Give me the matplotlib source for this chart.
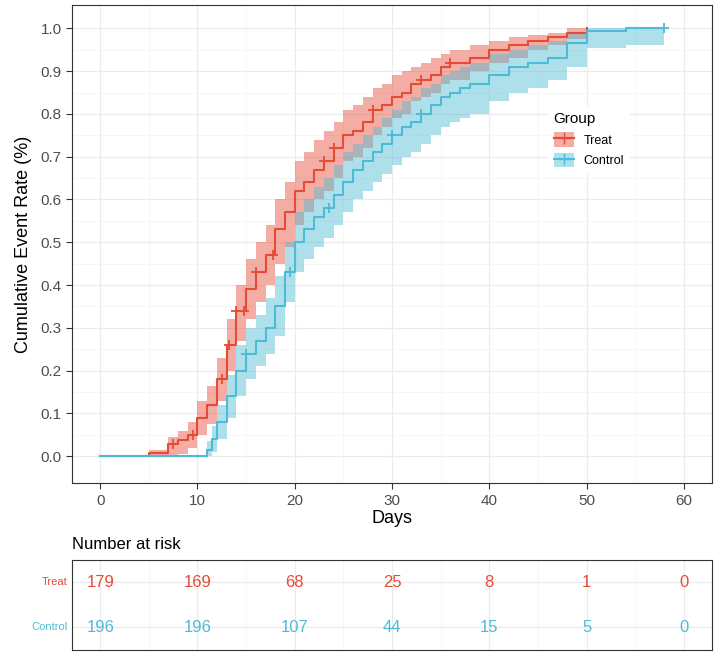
import numpy as np
import matplotlib
matplotlib.use("Agg")
import matplotlib.pyplot as plt
from matplotlib.patches import Patch
from matplotlib.lines import Line2D

plt.rcParams['font.family'] = ['Liberation Sans', 'DejaVu Sans']

# Treat group: step times, cumulative event rate, CI band
treat_t = [0, 5, 7, 8, 9, 10, 11, 12, 13, 14, 15, 16, 17, 18, 19, 20, 21, 22, 23, 24, 25,
           26, 27, 28, 29, 30, 31, 32, 33, 34, 35, 36, 38, 40, 42, 44, 46, 48, 50]
treat_y = [0, 0.008, 0.028, 0.037, 0.05, 0.09, 0.12, 0.18, 0.26, 0.34, 0.39, 0.43, 0.47,
           0.53, 0.57, 0.62, 0.64, 0.67, 0.69, 0.72, 0.75, 0.76, 0.78, 0.81, 0.82, 0.84,
           0.85, 0.87, 0.88, 0.89, 0.91, 0.92, 0.93, 0.95, 0.96, 0.97, 0.98, 0.99, 1.0]
treat_lo = [0, 0, 0, 0.005, 0.02, 0.05, 0.075, 0.13, 0.2, 0.27, 0.32, 0.36, 0.4, 0.45, 0.49,
            0.54, 0.57, 0.6, 0.62, 0.65, 0.69, 0.7, 0.72, 0.75, 0.77, 0.79, 0.8, 0.83, 0.84,
            0.85, 0.87, 0.88, 0.9, 0.92, 0.93, 0.95, 0.96, 0.975, 0.99]
treat_hi = [0, 0.015, 0.045, 0.06, 0.08, 0.13, 0.165, 0.23, 0.32, 0.4, 0.46, 0.5, 0.54, 0.6,
            0.64, 0.69, 0.71, 0.74, 0.76, 0.78, 0.81, 0.82, 0.84, 0.86, 0.87, 0.89, 0.9, 0.91,
            0.92, 0.93, 0.94, 0.95, 0.96, 0.97, 0.98, 0.985, 0.99, 1.0, 1.0]
treat_cens = [7.5, 9.5, 12.5, 13.2, 14, 14.8, 16, 17.8, 23, 24, 28, 33, 36]

# Control group
ctrl_t = [0, 11, 11.5, 12, 13, 14, 15, 16, 17, 18, 19, 20, 21, 22, 23, 24, 25, 26, 27, 28,
          29, 30, 31, 32, 33, 34, 35, 36, 37, 38, 40, 42, 44, 46, 48, 50, 54, 58]
ctrl_y = [0, 0.015, 0.04, 0.08, 0.14, 0.2, 0.24, 0.27, 0.3, 0.35, 0.43, 0.5, 0.53, 0.56,
          0.58, 0.61, 0.64, 0.67, 0.69, 0.71, 0.73, 0.75, 0.77, 0.78, 0.8, 0.82, 0.84, 0.85,
          0.86, 0.87, 0.89, 0.91, 0.92, 0.93, 0.965, 0.993, 1.0, 1.0]
ctrl_lo = [0, 0, 0.01, 0.04, 0.09, 0.14, 0.18, 0.21, 0.24, 0.28, 0.36, 0.43, 0.46, 0.49,
           0.51, 0.54, 0.57, 0.6, 0.62, 0.64, 0.66, 0.68, 0.7, 0.71, 0.73, 0.75, 0.77, 0.78,
           0.79, 0.8, 0.83, 0.85, 0.86, 0.88, 0.91, 0.955, 0.96, 0.96]
ctrl_hi = [0, 0.035, 0.07, 0.12, 0.19, 0.26, 0.3, 0.33, 0.37, 0.42, 0.5, 0.57, 0.6, 0.63,
           0.65, 0.68, 0.71, 0.73, 0.75, 0.77, 0.79, 0.81, 0.83, 0.84, 0.86, 0.87, 0.89, 0.9,
           0.91, 0.92, 0.94, 0.95, 0.96, 0.97, 0.99, 1.0, 1.0, 1.0]
ctrl_cens = [15, 19.5, 23.5, 30, 33, 58]

risk_times = [0, 10, 20, 30, 40, 50, 60]
treat_risk = [179, 169, 68, 25, 8, 1, 0]
ctrl_risk = [196, 196, 107, 44, 15, 5, 0]

red = '#E64B35'
blue = '#4DBBD5'

fig = plt.figure(figsize=(7.2, 6.6), dpi=100)
ax = fig.add_axes([0.1, 0.268, 0.889, 0.724])
tab = fig.add_axes([0.1, 0.015, 0.889, 0.137])

def at(times, vals, x):
    i = np.searchsorted(times, x, side='right') - 1
    return np.array(vals)[i]

for t, y, lo, hi, cens, col in [(treat_t, treat_y, treat_lo, treat_hi, treat_cens, red),
                               (ctrl_t, ctrl_y, ctrl_lo, ctrl_hi, ctrl_cens, blue)]:
    ax.fill_between(t, lo, hi, step='post', color=col, alpha=0.45, lw=0, zorder=2)
    ax.step(t, y, where='post', color=col, lw=1.5, zorder=3)
    ax.plot(cens, at(t, y, cens), ls='none', marker='+', ms=7, mew=1.3, color=col, zorder=4)

ax.set_xlim(-2.9, 62.9)
ax.set_ylim(-0.063, 1.054)
ax.set_xticks(range(0, 61, 10))
ax.set_xticks(range(5, 61, 10), minor=True)
ax.set_yticks(np.arange(0, 1.01, 0.1))
ax.set_yticks(np.arange(0.05, 1.0, 0.1), minor=True)
ax.yaxis.set_major_formatter(matplotlib.ticker.FormatStrFormatter('%.1f'))
ax.grid(which='major', color='#EBEBEB', lw=0.9, zorder=0)
ax.grid(which='minor', color='#F3F3F3', lw=0.5, zorder=0)
ax.set_axisbelow(True)
ax.tick_params(which='major', labelsize=11, labelcolor='#4D4D4D', color='#333333', length=4)
ax.tick_params(which='minor', length=0)
for s in ax.spines.values():
    s.set_color('#333333')
ax.set_xlabel('Days', fontsize=13, labelpad=2)
ax.set_ylabel('Cumulative Event Rate (%)', fontsize=13, labelpad=6)

handles = [(Patch(facecolor=red, alpha=0.45, lw=0), Line2D([], [], color=red, marker='+', ms=8, lw=1.5)),
           (Patch(facecolor=blue, alpha=0.45, lw=0), Line2D([], [], color=blue, marker='+', ms=8, lw=1.5))]
leg = ax.legend(handles, ['Treat', 'Control'], title='Group', loc='upper left',
                bbox_to_anchor=(0.735, 0.8), frameon=True, facecolor='white', edgecolor='white',
                framealpha=1, fontsize=9, title_fontsize=11, handlelength=1.6, handleheight=1.4,
                alignment='left')

# risk table
for row, vals, col in [(2, treat_risk, red), (1, ctrl_risk, blue)]:
    for x, v in zip(risk_times, vals):
        tab.text(x, row, str(v), color=col, fontsize=12, ha='center', va='center')
tab.set_xlim(-2.9, 62.9)
tab.set_ylim(0.5, 2.5)
tab.set_xticks(range(0, 61, 10))
tab.set_xticks(range(5, 61, 10), minor=True)
tab.set_yticks([1, 2])
tab.grid(which='major', color='#EBEBEB', lw=0.9)
tab.grid(which='minor', axis='x', color='#F3F3F3', lw=0.5)
tab.tick_params(which='both', length=0, labelbottom=False, labelleft=False)
for s in tab.spines.values():
    s.set_color('#333333')
tab.text(-3.4, 2, 'Treat', color=red, fontsize=8, ha='right', va='center')
tab.text(-3.4, 1, 'Control', color=blue, fontsize=8, ha='right', va='center')
tab.set_title('Number at risk', loc='left', fontsize=12, pad=8)

fig.savefig('out.png', dpi=100)
